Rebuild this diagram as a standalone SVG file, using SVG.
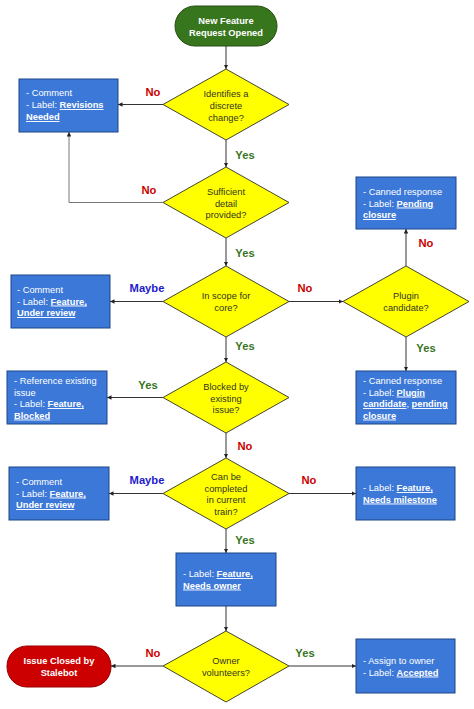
<svg xmlns="http://www.w3.org/2000/svg" width="474" height="709" viewBox="0 0 474 709">
<style>
.box{fill:#3c78d8;stroke:#1c4587;stroke-width:1}
.dia{fill:#ffff00;stroke:#444433;stroke-width:1}
.t{font-family:"Liberation Sans",Arial,sans-serif;font-size:9.3px}
.w{fill:#ffffff}
.d{fill:#333322}
.u{font-weight:bold;text-decoration:underline}
.c{text-anchor:middle}
.lbl{font-family:"Liberation Sans",Arial,sans-serif;font-size:11.2px;font-weight:bold;text-anchor:middle}
.no{fill:#cc0000}
.yes{fill:#38761d}
.maybe{fill:#1c1ccc}
.ln{fill:none;stroke:#333333;stroke-width:1;marker-end:url(#ah)}
.lg{fill:none;stroke:#777777;stroke-width:1;marker-end:url(#ah)}
</style>
<defs>
<marker id="ah" viewBox="0 0 6 6" refX="6" refY="3" markerWidth="4.5" markerHeight="4.5" orient="auto">
<path d="M0,0 L6,3 L0,6 z" fill="#222222"/>
</marker>
</defs>
<rect width="474" height="709" fill="#ffffff"/>

<g id="connectors">
<path class="ln" d="M226,46 V69"/>
<path class="ln" d="M163,104.5 H118"/>
<path class="ln" d="M226,140 V167"/>
<path class="lg" d="M163,202.5 H69 V132"/>
<path class="ln" d="M226,238 V266"/>
<path class="ln" d="M163,301.5 H110"/>
<path class="ln" d="M289,301.5 H343"/>
<path class="ln" d="M406,266 V229"/>
<path class="ln" d="M406,337 V371"/>
<path class="ln" d="M226,337 V362"/>
<path class="ln" d="M163,397.5 H107"/>
<path class="ln" d="M226,433 V458"/>
<path class="ln" d="M163,493.5 H109"/>
<path class="ln" d="M289,493.5 H356"/>
<path class="ln" d="M226,529 V553"/>
<path class="ln" d="M226,606 V631"/>
<path class="ln" d="M163,666 H111"/>
<path class="ln" d="M289,666 H356"/>
</g>

<g id="edge-labels">
<text class="lbl no" x="153" y="96">No</text>
<text class="lbl yes" x="245" y="159">Yes</text>
<text class="lbl no" x="149" y="194">No</text>
<text class="lbl yes" x="245" y="257">Yes</text>
<text class="lbl maybe" x="147" y="292">Maybe</text>
<text class="lbl no" x="305" y="292">No</text>
<text class="lbl no" x="426" y="247">No</text>
<text class="lbl yes" x="426" y="352">Yes</text>
<text class="lbl yes" x="245" y="350">Yes</text>
<text class="lbl yes" x="148" y="389">Yes</text>
<text class="lbl no" x="245" y="450">No</text>
<text class="lbl maybe" x="147" y="484">Maybe</text>
<text class="lbl no" x="309" y="484">No</text>
<text class="lbl yes" x="245" y="544">Yes</text>
<text class="lbl no" x="153" y="657">No</text>
<text class="lbl yes" x="305" y="657">Yes</text>
</g>

<g id="start">
<rect x="175" y="6" width="102" height="40" rx="20" fill="#38761d" stroke="#274e13"/>
<text class="t w c" font-weight="bold"><tspan x="226" y="24">New Feature</tspan><tspan x="226" y="36">Request Opened</tspan></text>
</g>

<g id="d1">
<polygon class="dia" points="226,69 289,104.5 226,140 163,104.5"/>
<text class="t d c"><tspan x="226" y="97">Identifies a</tspan><tspan x="226" y="109">discrete</tspan><tspan x="226" y="120.5">change?</tspan></text>
</g>

<g id="b-revisions">
<rect class="box" x="19" y="79" width="99" height="53"/>
<text class="t w"><tspan x="26" y="96">- Comment</tspan><tspan x="26" y="108">- Label: <tspan class="u">Revisions</tspan></tspan><tspan x="26" y="120" class="u">Needed</tspan></text>
</g>

<g id="d2">
<polygon class="dia" points="226,167 289,202.5 226,238 163,202.5"/>
<text class="t d c"><tspan x="226" y="195">Sufficient</tspan><tspan x="226" y="206.5">detail</tspan><tspan x="226" y="218">provided?</tspan></text>
</g>

<g id="d3">
<polygon class="dia" points="226,266 289,301.5 226,337 163,301.5"/>
<text class="t d c"><tspan x="226" y="299">In scope for</tspan><tspan x="226" y="310.5">core?</tspan></text>
</g>

<g id="b-review1">
<rect class="box" x="11" y="275" width="99" height="53"/>
<text class="t w"><tspan x="17" y="293">- Comment</tspan><tspan x="17" y="304.5">- Label: <tspan class="u">Feature,</tspan></tspan><tspan x="17" y="316" class="u">Under review</tspan></text>
</g>

<g id="d-plugin">
<polygon class="dia" points="406,266 469,301.5 406,337 343,301.5"/>
<text class="t d c"><tspan x="406" y="299">Plugin</tspan><tspan x="406" y="310.5">candidate?</tspan></text>
</g>

<g id="b-pending">
<rect class="box" x="356" y="177" width="100" height="52"/>
<text class="t w"><tspan x="363" y="195">- Canned response</tspan><tspan x="363" y="206.5">- Label: <tspan class="u">Pending</tspan></tspan><tspan x="363" y="218" class="u">closure</tspan></text>
</g>

<g id="b-plugin">
<rect class="box" x="356" y="371" width="100" height="53"/>
<text class="t w"><tspan x="363" y="384">- Canned response</tspan><tspan x="363" y="395.5">- Label: <tspan class="u">Plugin</tspan></tspan><tspan x="363" y="407"><tspan class="u">candidate</tspan>, <tspan class="u">pending</tspan></tspan><tspan x="363" y="418.5" class="u">closure</tspan></text>
</g>

<g id="d4">
<polygon class="dia" points="226,362 289,397.5 226,433 163,397.5"/>
<text class="t d c"><tspan x="226" y="390">Blocked by</tspan><tspan x="226" y="401.5">existing</tspan><tspan x="226" y="413">issue?</tspan></text>
</g>

<g id="b-blocked">
<rect class="box" x="7" y="371" width="100" height="53"/>
<text class="t w"><tspan x="14" y="384">- Reference existing</tspan><tspan x="14" y="395.5">issue</tspan><tspan x="14" y="407">- Label: <tspan class="u">Feature,</tspan></tspan><tspan x="14" y="418.5" class="u">Blocked</tspan></text>
</g>

<g id="d5">
<polygon class="dia" points="226,458 289,493.5 226,529 163,493.5"/>
<text class="t d c"><tspan x="226" y="480">Can be</tspan><tspan x="226" y="491.5">completed</tspan><tspan x="226" y="503">in current</tspan><tspan x="226" y="514.5">train?</tspan></text>
</g>

<g id="b-review2">
<rect class="box" x="9" y="467" width="100" height="53"/>
<text class="t w"><tspan x="16" y="485">- Comment</tspan><tspan x="16" y="496.5">- Label: <tspan class="u">Feature,</tspan></tspan><tspan x="16" y="508" class="u">Under review</tspan></text>
</g>

<g id="b-milestone">
<rect class="box" x="356" y="467" width="99" height="53"/>
<text class="t w"><tspan x="363" y="491">- Label: <tspan class="u">Feature,</tspan></tspan><tspan x="363" y="502.5" class="u">Needs milestone</tspan></text>
</g>

<g id="b-owner">
<rect class="box" x="176" y="553" width="100" height="53"/>
<text class="t w"><tspan x="183" y="577">- Label: <tspan class="u">Feature,</tspan></tspan><tspan x="183" y="588.5" class="u">Needs owner</tspan></text>
</g>

<g id="d6">
<polygon class="dia" points="226,631 289,666 226,702 163,666"/>
<text class="t d c"><tspan x="226" y="664">Owner</tspan><tspan x="226" y="675.5">volunteers?</tspan></text>
</g>

<g id="stalebot">
<rect x="7" y="646" width="104" height="41" rx="20" fill="#cc0000" stroke="#990000"/>
<text class="t w c" font-weight="bold"><tspan x="59" y="664">Issue Closed by</tspan><tspan x="59" y="675.5">Stalebot</tspan></text>
</g>

<g id="b-accepted">
<rect class="box" x="356" y="639" width="99" height="54"/>
<text class="t w"><tspan x="363" y="664">- Assign to owner</tspan><tspan x="363" y="675.5">- Label: <tspan class="u">Accepted</tspan></tspan></text>
</g>
</svg>
